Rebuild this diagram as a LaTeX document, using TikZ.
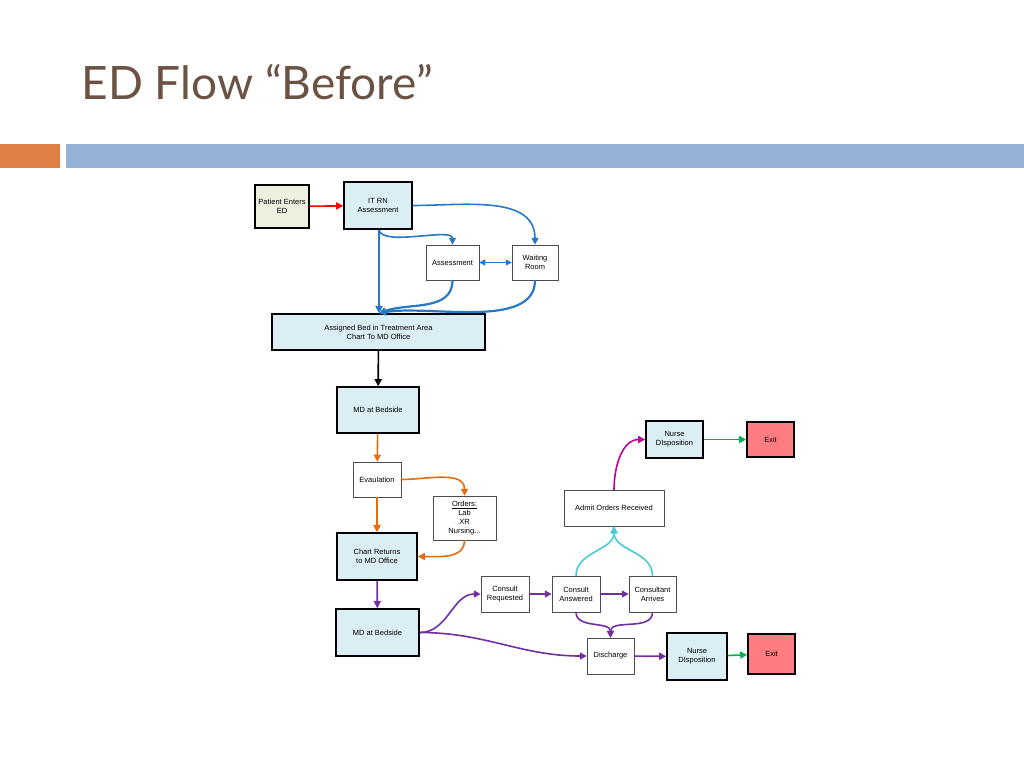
\documentclass[tikz,border=0pt]{standalone}
\usepackage{fontspec}
\setmainfont{Liberation Sans}
\newfontfamily\titlefont{Lato}
\usetikzlibrary{arrows.meta}
\definecolor{lblue}{HTML}{DAEEF3}
\definecolor{lgreen}{HTML}{EBF1DE}
\definecolor{exitred}{HTML}{FF7C80}
\definecolor{cblue}{HTML}{2878C8}
\definecolor{corange}{HTML}{E46C0A}
\definecolor{cpurple}{HTML}{7030A0}
\definecolor{ccyan}{HTML}{4BC8D8}
\definecolor{cmag}{HTML}{C0009C}
\definecolor{cgreen}{HTML}{00B050}
\definecolor{titlec}{HTML}{6B5344}
\definecolor{barorange}{HTML}{E07F45}
\definecolor{barblue}{HTML}{95B3D7}
\begin{document}
\begin{tikzpicture}[x=1pt,y=-1pt,
  box/.style={draw=black,line width=1.6pt,fill=lblue,inner sep=0,align=center,font=\fontsize{7.5}{9}\selectfont},
  wbox/.style={draw=black!70,line width=0.5pt,fill=white,inner sep=0,align=center,font=\fontsize{7.5}{9}\selectfont},
  arr/.style={-{Triangle[length=7pt,width=7pt]},line width=1.6pt}]
\useasboundingbox (0,0) rectangle (1024,768);
\fill[white] (0,0) rectangle (1024,768);
\node[anchor=west,text=titlec,font=\titlefont\fontsize{46}{50}\selectfont] (title) at (78,82) {ED Flow “Before”};
\fill[barorange] (0,144) rectangle (60,168);
\fill[barblue] (66,144) rectangle (1024,168);
\newcommand{\bx}[5]{\node[#1,minimum width={#4-#2},minimum height={#5-#3}] at ({(#2+#4)/2},{(#3+#5)/2})}
\bx{box,fill=lgreen}{255}{185}{309}{228} (pe) {Patient Enters\\ED};
\bx{box}{344}{182}{412}{229} (it) {IT RN\\Assessment};
\bx{wbox}{426}{245}{479}{280} (as) {Assessment};
\bx{wbox}{512}{245}{558}{280} (wr) {Waiting\\Room};
\bx{box}{272}{314}{485}{350} (ab) {Assigned Bed in Treatment Area\\Chart To MD Office};
\bx{box}{337}{387}{419}{433} (md1) {MD at Bedside};
\bx{wbox}{353}{462}{401}{497} (ev) {Evaulation};
\bx{wbox}{433}{496}{496}{540} (or) {\underline{Orders:}\\Lab\\XR\\Nursing...};
\bx{box}{337}{533}{417}{580} (cr) {Chart Returns\\to MD Office};
\bx{box}{336}{609}{419}{656} (md2) {MD at Bedside};
\bx{wbox}{481}{576}{529}{612} (cq) {Consult\\Requested};
\bx{wbox}{552}{576}{600}{612} (ca) {Consult\\Answered};
\bx{wbox}{629}{576}{676}{612} (cs) {Consultant\\Arrives};
\bx{wbox}{587}{638}{634}{674} (dc) {Discharge};
\bx{box}{667}{633}{727}{680} (nd2) {Nurse\\DIsposition};
\bx{box,fill=exitred}{748}{634}{795}{674} (ex2) {Exit};
\bx{wbox}{564}{490}{664}{526} (ao) {Admit Orders Received};
\bx{box}{646}{421}{703}{458} (nd1) {Nurse\\DIsposition};
\bx{box,fill=exitred}{747}{422}{794}{457} (ex1) {Exit};
% arrows
\draw[arr,red] (pe) -- (it);
\draw[arr,cblue] (it.east) to[out=0,in=90] (wr.north);
\draw[arr,cblue] (it.south) ++(1,0) to[out=-80,in=90,looseness=0.6] (as.north);
\draw[arr,cblue] (it.south) ++(1,0) coordinate (its) -- (ab.north-|its);
\draw[cblue,{Triangle[length=6pt,width=6pt]}-{Triangle[length=6pt,width=6pt]},line width=1.6pt] (as) -- (wr);
\draw[arr,cblue,line width=2.2pt] (as.south) to[out=-90,in=20] (ab.north-|its);
\draw[arr,cblue,line width=2.2pt] (wr.south) to[out=-90,in=10,looseness=0.8] (ab.north-|its);
\draw[arr,black] (ab) -- (md1);
\draw[arr,corange] (md1) -- (ev);
\draw[arr,corange] (ev.east) to[out=0,in=90] (or.north);
\draw[arr,corange] (ev) -- (cr);
\draw[arr,corange] (or.south) to[out=-90,in=0] (cr.east);
\draw[arr,cpurple] (cr) -- (md2);
\draw[arr,cpurple] (md2.east) to[out=0,in=180] (cq.west);
\draw[arr,cpurple] (md2.east) to[out=0,in=180] (dc.west);
\draw[arr,cpurple] (cq) -- (ca);
\draw[arr,cpurple] (ca) -- (cs);
\draw[arr,cpurple] (ca.south) to[out=-90,in=90] (dc.north);
\draw[arr,cpurple] (cs.south) to[out=-90,in=90] (dc.north);
\draw[arr,ccyan] (ca.north) to[out=90,in=-90] (ao.south);
\draw[arr,ccyan] (cs.north) to[out=90,in=-90] (ao.south);
\draw[arr,cmag] (ao.north) to[out=90,in=180] (nd1.west);
\draw[arr,cgreen] (nd1) -- (ex1);
\draw[arr,cpurple] (dc) -- (nd2);
\draw[arr,cgreen] (nd2) -- (ex2);
\end{tikzpicture}
\end{document}
